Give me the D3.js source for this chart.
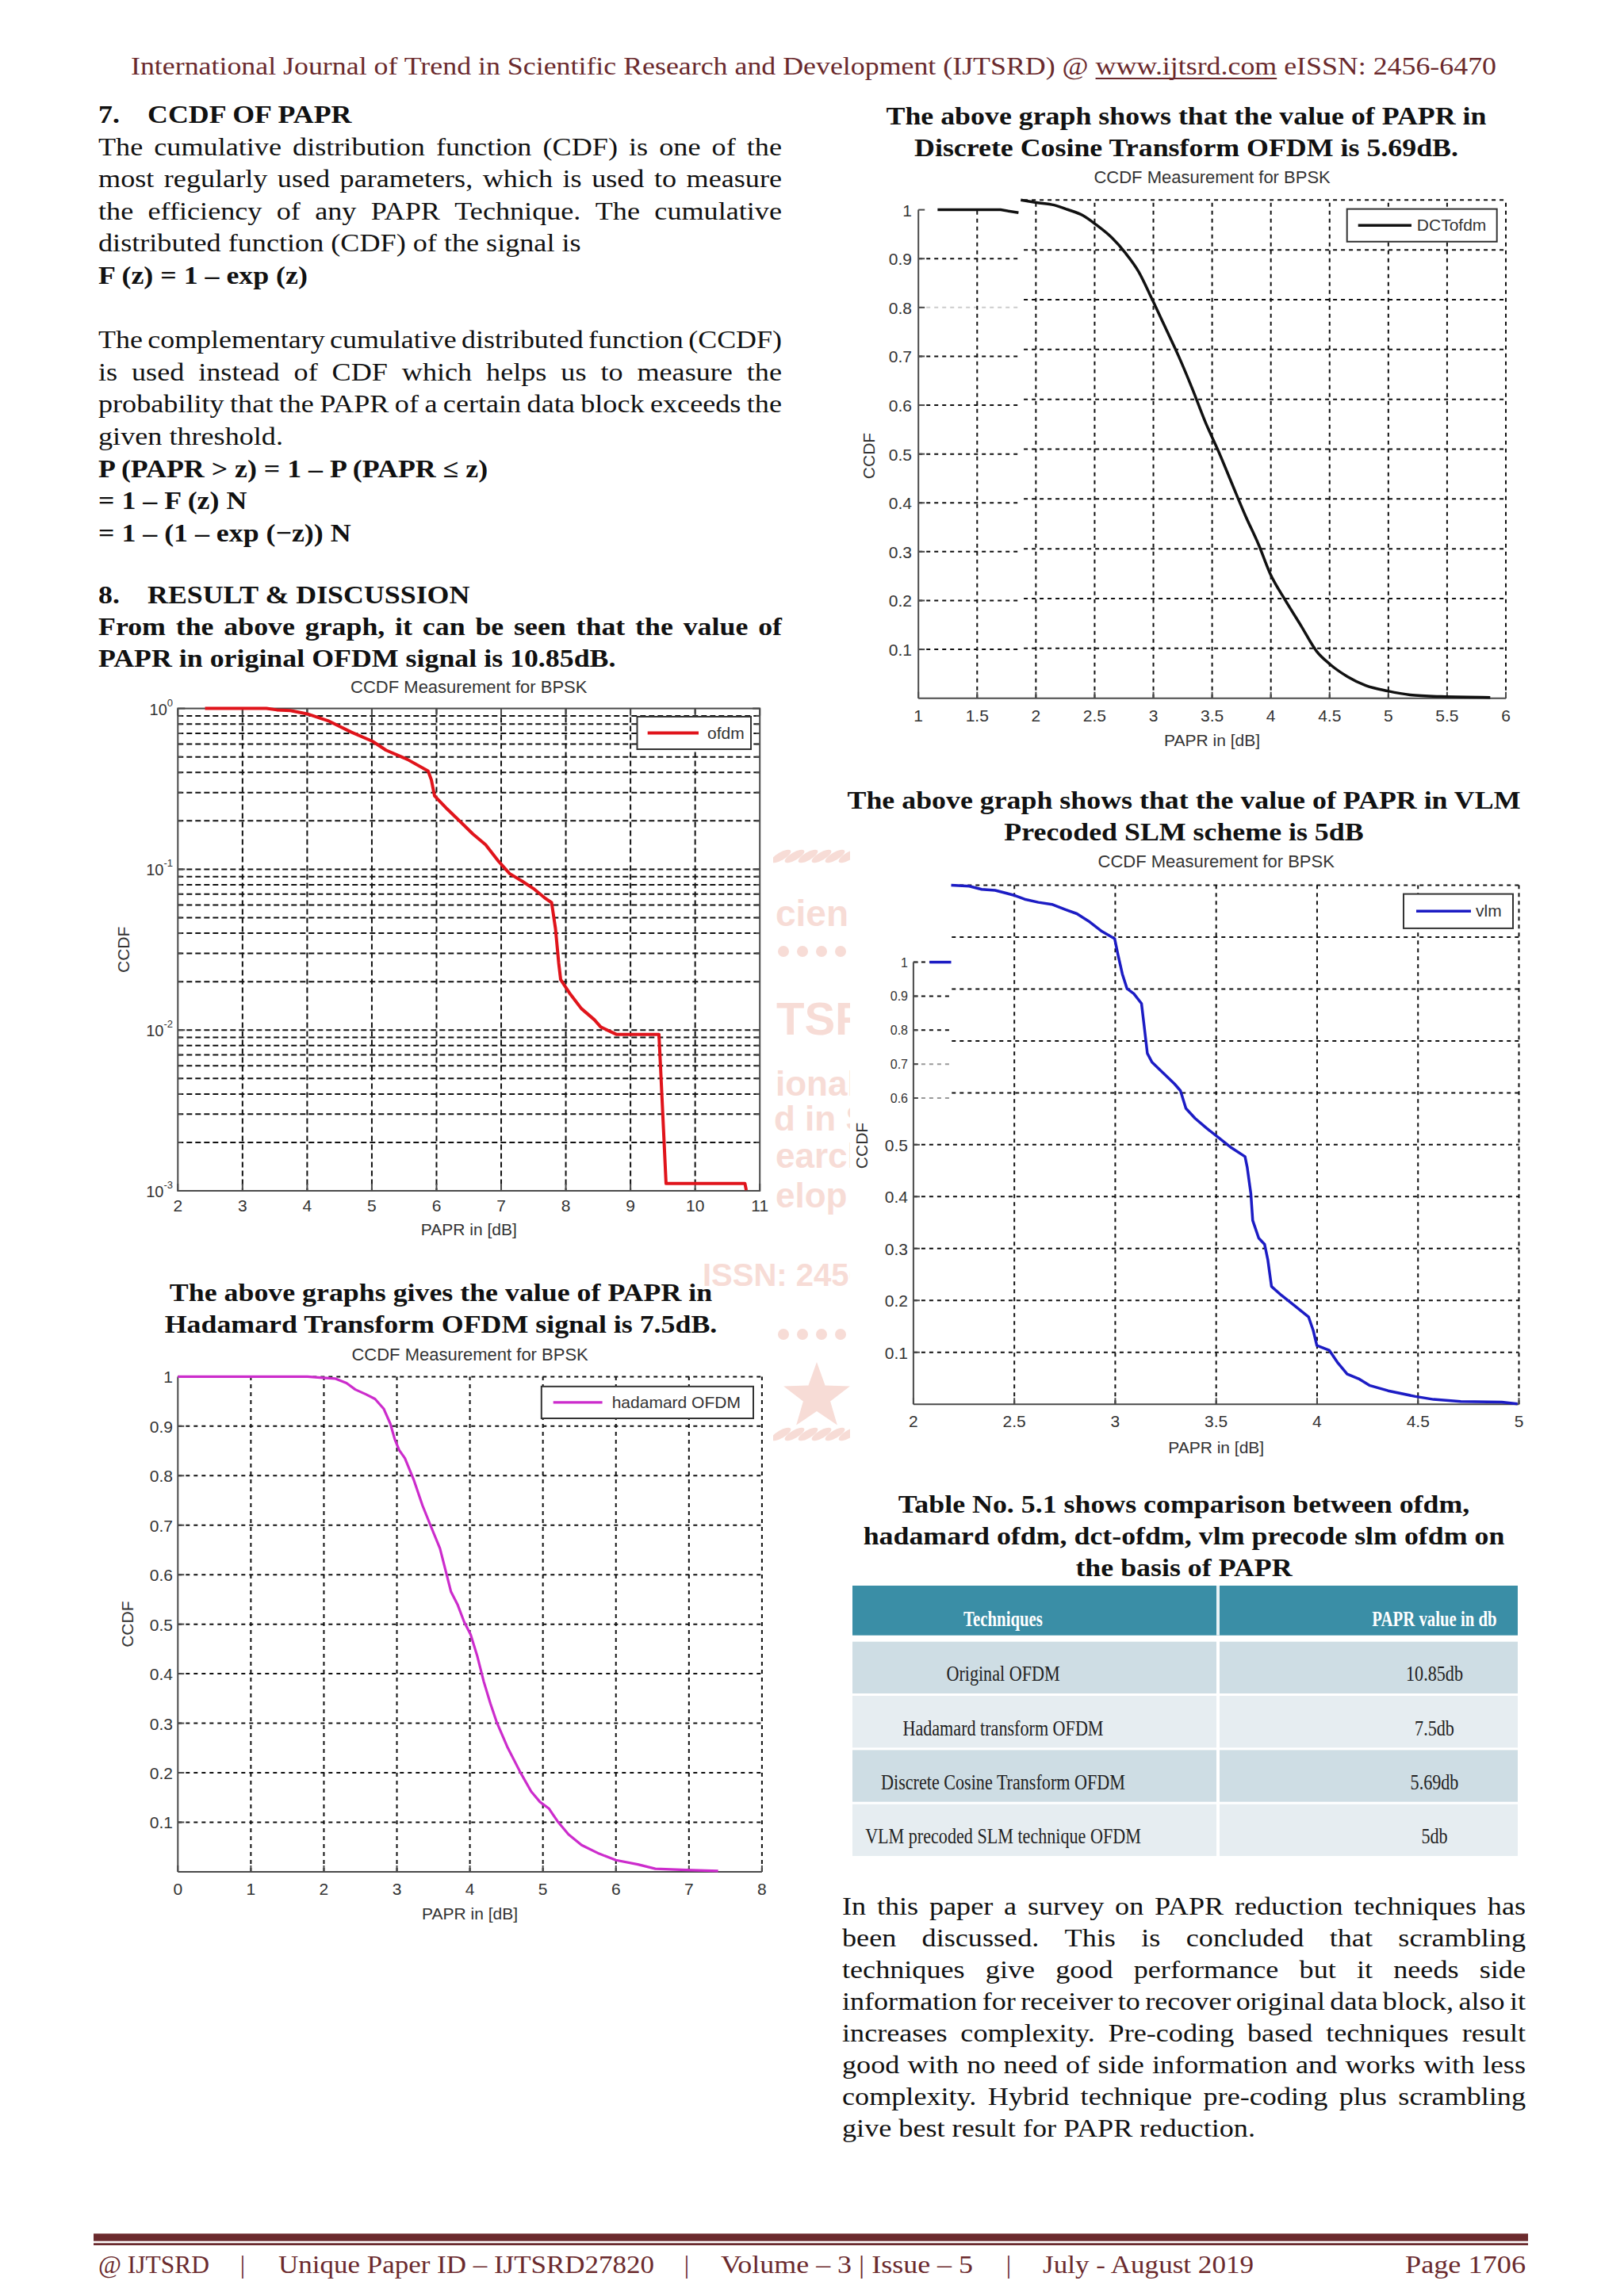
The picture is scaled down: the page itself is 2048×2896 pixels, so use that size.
<!DOCTYPE html>
<html><head><meta charset="utf-8">
<script src="https://cdn.jsdelivr.net/npm/d3@7"></script>
<style>html,body{margin:0;padding:0;background:#fff}</style>
</head><body>
<svg id="page" xmlns="http://www.w3.org/2000/svg"></svg>
<script>
// ---------------- DATA ----------------
// Chart 1: original OFDM (log CCDF)
const ofdmPAPR = [2.42,3.37,3.53,3.74,4.0,4.34,4.68,5.01,5.22,5.55,5.87,5.92,5.97,6.16,6.36,6.56,6.76,6.96,7.13,7.33,7.50,7.67,7.78,7.84,7.89,7.92,8.07,8.24,8.44,8.54,8.78,9.44,9.47,9.51,9.55,10.77,10.79];
const ofdmCCDF = [1,1,0.98,0.97,0.925,0.833,0.713,0.625,0.55,0.482,0.408,0.36,0.286,0.238,0.199,0.166,0.142,0.112,0.094,0.084,0.0758,0.0665,0.062,0.0427,0.026,0.0206,0.0167,0.0136,0.0116,0.01045,0.0094,0.0094,0.0053,0.00243,0.00111,0.00111,0.00101];
const ofdmXTicks = [2,3,4,5,6,7,8,9,10,11];
const ofdmYExp = [0,-1,-2,-3];

// Chart 2: DCT OFDM
const dctPAPR = [1.871,2.004,2.155,2.269,2.40,2.515,2.648,2.761,2.875,2.989,3.10,3.216,3.33,3.443,3.557,3.67,3.784,3.898,3.992,4.125,4.258,4.39,4.504,4.655,4.807,4.996,5.186,5.45,5.867];
const dctCCDF = [1.0,0.995,0.990,0.981,0.969,0.950,0.924,0.894,0.856,0.801,0.745,0.686,0.622,0.554,0.494,0.430,0.366,0.307,0.251,0.196,0.145,0.094,0.068,0.043,0.0256,0.0145,0.0068,0.0034,0.0017];
const dctStripPAPR = [1.163,1.70,1.852];
const dctStripCCDF = [1.0,1.0,0.994];
const dctXTicks = [1,1.5,2,2.5,3,3.5,4,4.5,5,5.5,6];
const dctYTicks = [0.1,0.2,0.3,0.4,0.5,0.6,0.7,0.8,0.9,1];

// Chart 3: Hadamard OFDM
const hadPAPR = [0,1.775,1.95,2.16,2.31,2.43,2.58,2.70,2.82,2.91,2.97,3.03,3.11,3.23,3.35,3.47,3.59,3.68,3.74,3.83,3.92,4.01,4.10,4.19,4.28,4.37,4.51,4.69,4.84,4.96,5.08,5.20,5.35,5.53,5.77,6.00,6.30,6.54,6.96,7.40];
const hadCCDF = [1,1,0.998,0.996,0.987,0.974,0.964,0.955,0.935,0.905,0.874,0.852,0.835,0.792,0.740,0.696,0.653,0.601,0.566,0.540,0.505,0.479,0.436,0.384,0.340,0.301,0.253,0.201,0.162,0.141,0.128,0.102,0.0755,0.0538,0.0365,0.0234,0.0148,0.006,0.0035,0.0017];
const hadXTicks = [0,1,2,3,4,5,6,7,8];
const hadYTicks = [0.1,0.2,0.3,0.4,0.5,0.6,0.7,0.8,0.9,1];

// Chart 4: VLM precoded SLM
const vlmPAPR = [2.187,2.277,2.338,2.405,2.495,2.551,2.619,2.686,2.754,2.81,2.867,2.934,2.997,3.013,3.035,3.058,3.092,3.13,3.141,3.159,3.182,3.238,3.294,3.323,3.35,3.395,3.452,3.508,3.576,3.643,3.654,3.672,3.681,3.711,3.74,3.756,3.774,3.823,3.891,3.958,3.981,3.999,4.06,4.104,4.149,4.206,4.262,4.352,4.487,4.577,4.712,4.915,4.993];
const vlmCCDF = [1.0,0.998,0.992,0.990,0.981,0.973,0.967,0.963,0.953,0.945,0.931,0.911,0.897,0.867,0.829,0.801,0.791,0.772,0.736,0.676,0.659,0.638,0.617,0.604,0.570,0.551,0.532,0.515,0.494,0.477,0.456,0.405,0.354,0.320,0.308,0.278,0.227,0.210,0.189,0.168,0.142,0.113,0.104,0.079,0.058,0.049,0.036,0.026,0.015,0.0093,0.0051,0.0042,0.0008];
const vlmStripPAPR = [2.08,2.187];
const vlmStripCCDF = [1.0,1.0];
const vlmXTicks = [2,2.5,3,3.5,4,4.5,5];
const vlmYTicksMain = [0.1,0.2,0.3,0.4,0.5];
const vlmYTicksStrip = [0.6,0.7,0.8,0.9,1];

// Table
const techniques = ['Original OFDM','Hadamard transform OFDM','Discrete Cosine Transform OFDM','VLM precoded SLM technique OFDM'];
const paprValues = [10.85,7.5,5.69,5];
const tableHeaders = ['Techniques','PAPR value in db'];

// Texts
const headerParts = ['International Journal of Trend in Scientific Research and Development (IJTSRD) @','www.ijtsrd.com','eISSN: 2456-6470'];
const leftLines = [
  {t:'The cumulative distribution function (CDF) is one of the', j:true},
  {t:'most regularly used parameters, which is used to measure', j:true},
  {t:'the efficiency of any PAPR Technique. The cumulative', j:true},
  {t:'distributed function (CDF) of the signal is', j:false},
  {t:'F (z) = 1 \u2013 exp (z)', j:false, b:true},
  null,
  {t:'The complementary cumulative distributed function (CCDF)', j:true},
  {t:'is used instead of CDF which helps us to measure the', j:true},
  {t:'probability that the PAPR of a certain data block exceeds the', j:true},
  {t:'given threshold.', j:false},
  {t:'P (PAPR > z) = 1 \u2013 P (PAPR \u2264 z)', j:false, b:true},
  {t:'= 1 \u2013 F (z) N', j:false, b:true},
  {t:'= 1 \u2013 (1 \u2013 exp (\u2212z)) N', j:false, b:true}
];
const resultLines = [
  {t:'From the above graph, it can be seen that the value of', j:true, b:true},
  {t:'PAPR in original OFDM signal is 10.85dB.', j:false, b:true}
];
const dctHeading = ['The above graph shows that the value of PAPR in','Discrete Cosine Transform OFDM is 5.69dB.'];
const hadHeading = ['The above graphs gives the value of PAPR in','Hadamard Transform OFDM signal is 7.5dB.'];
const vlmHeading = ['The above graph shows that the value of PAPR in VLM','Precoded SLM scheme is 5dB'];
const tableHeading = ['Table No. 5.1 shows comparison between ofdm,','hadamard ofdm, dct-ofdm, vlm precode slm ofdm on','the basis of PAPR'];
const conclusionLines = [
  'In this paper a survey on PAPR reduction techniques has',
  'been discussed. This is concluded that scrambling',
  'techniques give good performance but it needs side',
  'information for receiver to recover original data block, also it',
  'increases complexity. Pre-coding based techniques result',
  'good with no need of side information and works with less',
  'complexity. Hybrid technique pre-coding plus scrambling',
  'give best result for PAPR reduction.'
];
const footerParts = ['@ IJTSRD','|','Unique Paper ID \u2013 IJTSRD27820','|','Volume \u2013 3 | Issue \u2013 5','|','July - August 2019','Page 1706'];
const watermarkFragments = ['cien','TSR','ional','d in S','earch','elop','ISSN: 2456'];

// ---------------- HELPERS ----------------
const W = 2048, H = 2896;
const SERIF = "'Liberation Serif','Times New Roman',Times,serif";
const SANS = "'Liberation Sans',Arial,Helvetica,sans-serif";
const svg = d3.select('#page').attr('width', W).attr('height', H);
svg.append('rect').attr('width', W).attr('height', H).attr('fill', '#fff');
const meas = svg.append('text').attr('x', -5000).attr('y', -5000);
function tw(str, size, weight, family) {
  meas.attr('font-size', size).attr('font-weight', weight || 'normal').attr('font-family', family || SERIF).text(str);
  return meas.node().getComputedTextLength();
}
function putText(g, str, x, y, o = {}) {
  const size = o.size || 32, weight = o.weight || 'normal', family = o.family || SERIF;
  const nat = tw(str, size, weight, family);
  const w = o.width || nat * (o.stretch || 1);
  let xs = x;
  if (o.anchor === 'middle') xs = x - w / 2; else if (o.anchor === 'end') xs = x - w;
  g.append('text').attr('x', xs).attr('y', y).attr('font-size', size).attr('font-weight', weight)
    .attr('font-family', family).attr('fill', o.fill || '#111')
    .attr('textLength', w).attr('lengthAdjust', 'spacingAndGlyphs').text(str);
  return {x: xs, w};
}
function putJustified(g, str, xa, xb, y, o = {}) {
  const size = o.size || 32, weight = o.weight || 'normal', family = o.family || SERIF;
  const words = str.split(' ');
  const ws = words.map(w => tw(w, size, weight, family));
  const sum = d3.sum(ws), gaps = words.length - 1;
  let f = o.stretch || 1;
  const minGap = size * 0.2;
  if (sum * f + gaps * minGap > xb - xa) f = (xb - xa - gaps * minGap) / sum;
  const gap = (xb - xa - sum * f) / gaps;
  let x = xa;
  words.forEach((w, i) => {
    g.append('text').attr('x', x).attr('y', y).attr('font-size', size).attr('font-weight', weight)
      .attr('font-family', family).attr('fill', o.fill || '#111')
      .attr('textLength', ws[i] * f).attr('lengthAdjust', 'spacingAndGlyphs').text(w);
    x += ws[i] * f + gap;
  });
}
function attrs(sel, o) { Object.entries(o).forEach(([k, v]) => sel.attr(k, v)); return sel; }
const GRID1 = {stroke: '#111', 'stroke-width': 2, 'stroke-dasharray': '7,4', fill: 'none'};
const GRID = {stroke: '#111', 'stroke-width': 2, 'stroke-dasharray': '5,5', fill: 'none'};
const AXIS = {stroke: '#4a4a4a', 'stroke-width': 2, fill: 'none'};
const AX_TXT = '#333';
function ctext(g, str, x, y, o = {}) {
  return g.append('text').attr('x', x).attr('y', y).attr('font-family', SANS)
    .attr('font-size', o.size || 21).attr('fill', o.fill || AX_TXT)
    .attr('text-anchor', o.anchor || 'middle').text(str);
}
function seg(g, x1, y1, x2, y2, st) { return attrs(g.append('line').attr('x1', x1).attr('y1', y1).attr('x2', x2).attr('y2', y2), st); }
function legend(g, x, y, w, h, color, label, lx1, lx2, tx, lw) {
  attrs(g.append('rect').attr('x', x).attr('y', y).attr('width', w).attr('height', h), {fill: '#fff', stroke: '#333', 'stroke-width': 2});
  seg(g, lx1, y + h / 2, lx2, y + h / 2, {stroke: color, 'stroke-width': lw || 3});
  ctext(g, label, tx, y + h / 2 + 7, {anchor: 'start', size: 21});
}
const pts = (xs, ys) => d3.zip(xs, ys).map(([x, y]) => ({x, y}));

// ---------------- WATERMARK ----------------
{
  const defs = svg.append('defs');
  const cp = defs.append('clipPath').attr('id', 'wmclip');
  cp.append('rect').attr('x', 975).attr('y', 1040).attr('width', 97).attr('height', 820);
  cp.append('rect').attr('x', 860).attr('y', 1570).attr('width', 212).attr('height', 80);
  const wm = svg.append('g').attr('clip-path', 'url(#wmclip)').attr('fill', '#f7dcd6').attr('font-family', SANS).attr('font-weight', 'bold');
  const wmPos = [[978, 1168, 46], [979, 1305, 58], [978, 1382, 44], [976, 1426, 44], [978, 1473, 44], [978, 1523, 44], [886, 1622, 40]];
  watermarkFragments.forEach((t, i) => wm.append('text').attr('x', wmPos[i][0]).attr('y', wmPos[i][1]).attr('font-size', wmPos[i][2]).text(t));
  [1200, 1683].forEach(cy => [988, 1012, 1036, 1060].forEach(cx => wm.append('circle').attr('cx', cx).attr('cy', cy).attr('r', 7)));
  const star = d3.range(10).map(i => { const a = -Math.PI / 2 + i * Math.PI / 5, r = i % 2 ? 18 : 44; return [1030 + r * Math.cos(a), 1762 + r * Math.sin(a)]; });
  wm.append('path').attr('d', 'M' + star.join('L') + 'Z');
  [1080, 1809].forEach(cy => d3.range(6).forEach(i => wm.append('ellipse').attr('cx', 985 + i * 17).attr('cy', cy).attr('rx', 14).attr('ry', 5).attr('transform', `rotate(-30 ${985 + i * 17} ${cy})`)));
}

// ---------------- CHART 1 (log) ----------------
{
  const g = svg.append('g');
  g.append('rect').attr('x', 135).attr('y', 848).attr('width', 840).attr('height', 720).attr('fill', '#fff');
  const x = d3.scaleLinear().domain([2, 11]).range([224.3, 958.2]);
  const y = d3.scaleLog().domain([1e-3, 1]).range([1502, 893.6]);
  const [l, r] = x.range(), [b, t] = y.range();
  ofdmXTicks.slice(1, -1).forEach(v => seg(g, x(v), t, x(v), b, GRID1));
  const yt = y.ticks().filter(v => v > 1.001e-3 && v < 0.999);
  yt.forEach(v => seg(g, l, y(v), r, y(v), GRID1));
  attrs(g.append('rect').attr('x', l).attr('y', t).attr('width', r - l).attr('height', b - t), AXIS);
  ofdmXTicks.forEach(v => { seg(g, x(v), b, x(v), b - 9, AXIS); seg(g, x(v), t, x(v), t + 9, AXIS); });
  y.ticks().forEach(v => { const major = Math.abs(Math.log10(v) - Math.round(Math.log10(v))) < 1e-6; const len = major ? 9 : 5;
    seg(g, l, y(v), l + len, y(v), AXIS); seg(g, r, y(v), r - len, y(v), AXIS); });
  ofdmXTicks.forEach(v => ctext(g, String(v), x(v), 1528, {size: 21}));
  ofdmYExp.forEach(e => {
    const tx = g.append('text').attr('x', 218).attr('y', y(Math.pow(10, e)) + 8).attr('font-family', SANS)
      .attr('font-size', 20).attr('fill', AX_TXT).attr('text-anchor', 'end');
    tx.append('tspan').text('10');
    tx.append('tspan').attr('dy', -11).attr('font-size', 13).text(String(e));
  });
  ctext(g, 'CCDF Measurement for BPSK', (l + r) / 2, 874, {size: 22});
  ctext(g, 'PAPR in [dB]', (l + r) / 2, 1558, {size: 21});
  ctext(g, 'CCDF', 0, 0, {size: 21}).attr('transform', `translate(163,${(t + b) / 2}) rotate(-90)`);
  g.append('path').datum(pts(ofdmPAPR, ofdmCCDF)).attr('d', d3.line().x(d => x(d.x)).y(d => y(d.y)))
    .attr('fill', 'none').attr('stroke', '#e0141b').attr('stroke-width', 4).attr('stroke-linejoin', 'round');
  legend(g, 803.5, 904, 143.5, 41, '#e0141b', 'ofdm', 816.7, 881, 892, 4);
}

// ---------------- CHART 2 (DCT) ----------------
{
  const g = svg.append('g');
  g.append('rect').attr('x', 1072).attr('y', 205).attr('width', 860).attr('height', 745).attr('fill', '#fff');
  const x = d3.scaleLinear().domain([1, 6]).range([1158.2, 1899]);
  const y = d3.scaleLinear().domain([0, 1]).range([880.7, 252.3]);
  const yL = d3.scaleLinear().domain([0, 1]).range([880.7, 264.6]);
  const split = 1.87;
  dctYTicks.filter(v => v < 1).forEach(v => seg(g, x(1), yL(v), x(split) - 2, yL(v), GRID).attr('stroke', v === 0.8 ? '#ccc' : '#111'));
  seg(g, x(1.5), yL(0), x(1.5), yL(1), GRID);
  dctYTicks.forEach(v => seg(g, x(split) + 4, y(v), x(6), y(v), GRID));
  dctXTicks.filter(v => v >= 2).forEach(v => seg(g, x(v), y(0), x(v), y(1), GRID));
  seg(g, x(1), y(0), x(6), y(0), AXIS);
  seg(g, x(1), y(0), x(1), yL(1), AXIS);
  dctXTicks.forEach(v => seg(g, x(v), y(0), x(v), y(0) - 8, AXIS));
  dctYTicks.forEach(v => seg(g, x(1), yL(v), x(1) + 8, yL(v), AXIS));
  dctXTicks.forEach(v => ctext(g, String(v), x(v), 910, {size: 21}));
  dctYTicks.forEach(v => ctext(g, String(v), 1150, yL(v) + 8, {size: 21, anchor: 'end'}));
  ctext(g, 'CCDF Measurement for BPSK', (x(1) + x(6)) / 2, 231, {size: 22});
  ctext(g, 'PAPR in [dB]', (x(1) + x(6)) / 2, 941, {size: 21});
  ctext(g, 'CCDF', 0, 0, {size: 21}).attr('transform', `translate(1103,575) rotate(-90)`);
  g.append('path').datum(pts(dctStripPAPR, dctStripCCDF)).attr('d', d3.line().x(d => x(d.x)).y(d => yL(d.y)))
    .attr('fill', 'none').attr('stroke', '#111').attr('stroke-width', 3.5);
  g.append('path').datum(pts(dctPAPR, dctCCDF)).attr('d', d3.line().x(d => x(d.x)).y(d => y(d.y)).curve(d3.curveMonotoneX))
    .attr('fill', 'none').attr('stroke', '#111').attr('stroke-width', 3.5);
  legend(g, 1698.7, 263.6, 189, 41.2, '#111', 'DCTofdm', 1712.7, 1780, 1786.8, 3.5);
}

// ---------------- CHART 3 (Hadamard) ----------------
{
  const g = svg.append('g');
  g.append('rect').attr('x', 135).attr('y', 1692).attr('width', 840).attr('height', 745).attr('fill', '#fff');
  const x = d3.scaleLinear().domain([0, 8]).range([224.3, 960.9]);
  const y = d3.scaleLinear().domain([0, 1]).range([2360.9, 1736.4]);
  hadYTicks.forEach(v => seg(g, x(0), y(v), x(8), y(v), GRID));
  hadXTicks.slice(1).forEach(v => seg(g, x(v), y(0), x(v), y(1), GRID));
  seg(g, x(0), y(0), x(8), y(0), AXIS);
  seg(g, x(0), y(0), x(0), y(1), AXIS);
  hadXTicks.forEach(v => seg(g, x(v), y(0), x(v), y(0) - 8, AXIS));
  hadYTicks.forEach(v => seg(g, x(0), y(v), x(0) + 8, y(v), AXIS));
  hadXTicks.forEach(v => ctext(g, String(v), x(v), 2390, {size: 21}));
  hadYTicks.forEach(v => ctext(g, String(v), 218, y(v) + 8, {size: 21, anchor: 'end'}));
  ctext(g, 'CCDF Measurement for BPSK', (x(0) + x(8)) / 2, 1716, {size: 22});
  ctext(g, 'PAPR in [dB]', (x(0) + x(8)) / 2, 2421, {size: 21});
  ctext(g, 'CCDF', 0, 0, {size: 21}).attr('transform', `translate(168,${(y(0) + y(1)) / 2}) rotate(-90)`);
  g.append('path').datum(pts(hadPAPR, hadCCDF)).attr('d', d3.line().x(d => x(d.x)).y(d => y(d.y)))
    .attr('fill', 'none').attr('stroke', '#cc2ccc').attr('stroke-width', 3.2).attr('stroke-linejoin', 'round');
  legend(g, 682.8, 1748.8, 267.2, 40.2, '#cc2ccc', 'hadamard OFDM', 697.7, 759.6, 771.7, 3.2);
}

// ---------------- CHART 4 (VLM) ----------------
{
  const g = svg.append('g');
  g.append('rect').attr('x', 1072).attr('y', 1068).attr('width', 860).attr('height', 785).attr('fill', '#fff');
  const x = d3.scaleLinear().domain([2, 5]).range([1151.9, 1915.5]);
  const y = d3.scaleLinear().domain([0, 1]).range([1771.2, 1116.5]);
  const yS = d3.scaleLinear().domain([0.6, 1]).range([1385.0, 1213.6]);
  const split = 2.19;
  vlmYTicksMain.forEach(v => seg(g, x(2), y(v), x(5), y(v), GRID));
  [0.6, 0.7, 0.8, 0.9, 1].forEach(v => seg(g, x(split), y(v), x(5), y(v), GRID));
  vlmYTicksStrip.forEach(v => seg(g, x(2), yS(v), x(split) - 2, yS(v), GRID).attr('stroke', v <= 0.7 ? '#999' : '#111'));
  vlmXTicks.slice(1).forEach(v => seg(g, x(v), y(0), x(v), y(1), GRID));
  seg(g, x(2), y(0), x(5), y(0), AXIS);
  seg(g, x(2), y(0), x(2), yS(1), AXIS);
  vlmXTicks.forEach(v => seg(g, x(v), y(0), x(v), y(0) - 8, AXIS));
  vlmYTicksMain.forEach(v => seg(g, x(2), y(v), x(2) + 8, y(v), AXIS));
  vlmYTicksStrip.forEach(v => seg(g, x(2), yS(v), x(2) + 6, yS(v), AXIS));
  vlmXTicks.forEach(v => ctext(g, String(v), x(v), 1800, {size: 21}));
  vlmYTicksMain.forEach(v => ctext(g, String(v), 1145, y(v) + 8, {size: 21, anchor: 'end'}));
  vlmYTicksStrip.forEach(v => ctext(g, String(v), 1145, yS(v) + 6, {size: 16, anchor: 'end'}));
  ctext(g, 'CCDF Measurement for BPSK', (x(2) + x(5)) / 2, 1094, {size: 22});
  ctext(g, 'PAPR in [dB]', (x(2) + x(5)) / 2, 1833, {size: 21});
  ctext(g, 'CCDF', 0, 0, {size: 21}).attr('transform', `translate(1094,1445) rotate(-90)`);
  g.append('path').datum(pts(vlmStripPAPR, vlmStripCCDF)).attr('d', d3.line().x(d => x(d.x)).y(d => yS(d.y)))
    .attr('fill', 'none').attr('stroke', '#1c1cc4').attr('stroke-width', 3.5);
  g.append('path').datum(pts(vlmPAPR, vlmCCDF)).attr('d', d3.line().x(d => x(d.x)).y(d => y(d.y)))
    .attr('fill', 'none').attr('stroke', '#1c1cc4').attr('stroke-width', 3.5).attr('stroke-linejoin', 'round');
  legend(g, 1770, 1127.6, 138, 43.3, '#1c1cc4', 'vlm', 1786, 1855, 1861, 3.5);
}

// ---------------- TABLE ----------------
{
  const g = svg.append('g');
  const cols = d3.scaleOrdinal().domain([0, 1]).range([[1075, 1534], [1538, 1914]]);
  const textX = [1265, 1809];
  attrs(g.append('rect').attr('x', 1075).attr('y', 2000).attr('width', 1914 - 1075).attr('height', 62.7), {fill: '#3a8ea6'});
  g.append('rect').attr('x', 1534).attr('y', 2000).attr('width', 4).attr('height', 62.7).attr('fill', '#e8f2f5');
  tableHeaders.forEach((h, i) => putText(g, h, textX[i], 2051, {size: 27, weight: 'bold', fill: '#fff', stretch: 0.77, anchor: 'middle'}));
  const yb = d3.scaleBand().domain(d3.range(techniques.length)).range([2070.7, 2341]).paddingInner(0.045);
  techniques.forEach((tq, i) => {
    const fill = i % 2 === 0 ? '#cedde4' : '#e6edf1';
    [0, 1].forEach(c => { const [a, bb] = cols(c); g.append('rect').attr('x', a).attr('y', yb(i)).attr('width', bb - a).attr('height', yb.bandwidth()).attr('fill', fill); });
    const base = yb(i) + yb.bandwidth() / 2 + 17;
    putText(g, tq, textX[0], base, {size: 28, fill: '#222', stretch: 0.79, anchor: 'middle'});
    putText(g, paprValues[i] + 'db', textX[1], base, {size: 28, fill: '#222', stretch: 0.79, anchor: 'middle'});
  });
}

// ---------------- PAGE TEXT ----------------
{
  const g = svg.append('g');
  const MAROON = '#6b2a2d';
  const sp = tw('a b', 32) - tw('ab', 32);
  const w0 = tw(headerParts[0], 32), w1 = tw(headerParts[1], 32), w2 = tw(headerParts[2], 32);
  const total = w0 + w1 + w2 + 2 * sp, f = 1722 / total;
  let hx = 165;
  putText(g, headerParts[0], hx, 94, {size: 32, fill: MAROON, width: w0 * f}); hx += (w0 + sp) * f;
  putText(g, headerParts[1], hx, 94, {size: 32, fill: MAROON, width: w1 * f});
  seg(g, hx, 99, hx + w1 * f, 99, {stroke: MAROON, 'stroke-width': 2});
  hx += (w1 + sp) * f;
  putText(g, headerParts[2], hx, 94, {size: 32, fill: MAROON, width: w2 * f});

  const SB = 1.12, SR = 1.13;
  putText(g, '7.', 124, 155, {weight: 'bold', stretch: SB});
  putText(g, 'CCDF OF PAPR', 186, 155, {weight: 'bold', stretch: SB});
  leftLines.forEach((ln, i) => {
    if (!ln) return;
    const yy = 195.6 + 40.6 * i;
    const o = {weight: ln.b ? 'bold' : 'normal', stretch: ln.b ? SB : SR};
    if (ln.j) putJustified(g, ln.t, 124, 986, yy, o); else putText(g, ln.t, 124, yy, o);
  });
  putText(g, '8.', 124, 761, {weight: 'bold', stretch: SB});
  putText(g, 'RESULT & DISCUSSION', 186, 761, {weight: 'bold', stretch: SB});
  resultLines.forEach((ln, i) => {
    const yy = 801 + 39.5 * i;
    if (ln.j) putJustified(g, ln.t, 124, 986, yy, {weight: 'bold', stretch: SB}); else putText(g, ln.t, 124, yy, {weight: 'bold', stretch: SB});
  });
  hadHeading.forEach((t, i) => putText(g, t, 556, 1641 + 40 * i, {weight: 'bold', stretch: SB, anchor: 'middle'}));
  dctHeading.forEach((t, i) => putText(g, t, 1496, 157 + 40 * i, {weight: 'bold', stretch: SB, anchor: 'middle'}));
  vlmHeading.forEach((t, i) => putText(g, t, 1493, 1020 + 40 * i, {weight: 'bold', stretch: SB, anchor: 'middle'}));
  tableHeading.forEach((t, i) => putText(g, t, 1493, 1908 + 40 * i, {weight: 'bold', stretch: SB, anchor: 'middle'}));
  conclusionLines.forEach((t, i) => {
    const yy = 2415 + 40 * i;
    if (i < conclusionLines.length - 1) putJustified(g, t, 1062, 1924, yy, {stretch: SR}); else putText(g, t, 1062, yy, {stretch: SR});
  });
  g.append('rect').attr('x', 118).attr('y', 2817.3).attr('width', 1809).attr('height', 9.4).attr('fill', MAROON);
  g.append('rect').attr('x', 118).attr('y', 2829.3).attr('width', 1809).attr('height', 2.7).attr('fill', MAROON);
  const fx = [[124, 264], [306, null], [351, 825], [866, null], [909, 1227], [1272, null], [1315, 1581], [1772, 1924]];
  footerParts.forEach((t, i) => {
    const [a, bb] = fx[i];
    if (bb) putText(g, t, a, 2867, {size: 32, fill: MAROON, width: bb - a});
    else putText(g, t, a, 2867, {size: 32, fill: MAROON, anchor: 'middle'});
  });
}
meas.remove();
</script>
</body></html>
